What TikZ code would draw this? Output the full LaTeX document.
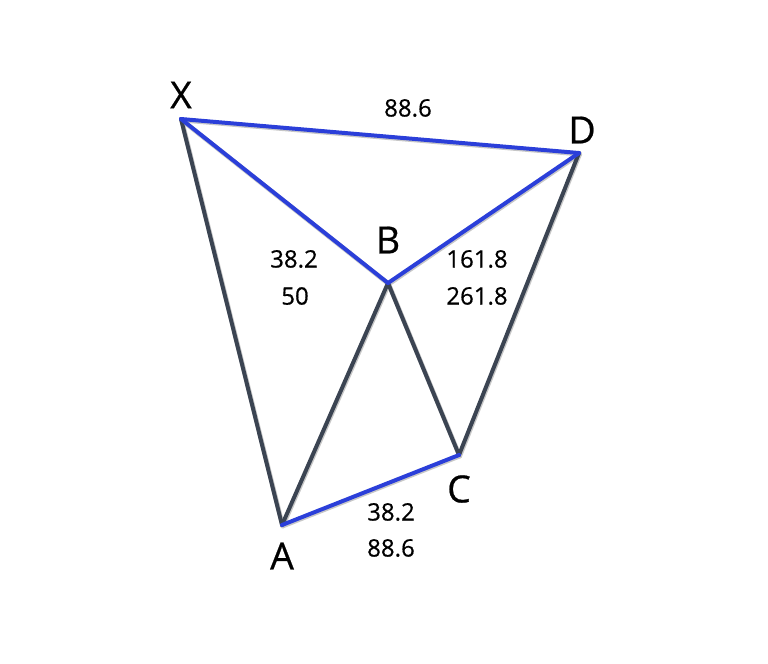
\documentclass[tikz,border=0pt]{standalone}
\usepackage{fontspec}
\setmainfont{Open Sans}[FakeBold=0.6]
\usepackage{tikz}
\usepackage{tkz-euclide}
\definecolor{legblue}{HTML}{2B3FD9}
\definecolor{leggray}{HTML}{3B4452}
\tikzset{
  bluelegs/.style={color=legblue,line width=3.4pt,line cap=round,line join=round},
  graylegs/.style={color=leggray,line width=3.4pt,line cap=round,line join=round},
  shadowlegs/.style={color=black!22,line width=4pt,line cap=round,line join=round,
    transform canvas={xshift=0.6pt,yshift=-0.9pt}},
  vertexname/.style={font=\fontsize{32}{36}\selectfont,inner sep=0pt},
  ratio/.style={font=\fontsize{20.5}{24}\selectfont,inner sep=0pt}
}
\begin{document}
\begin{tikzpicture}[x=0.03cm,y=-0.03cm]
                        \useasboundingbox (0,0) rectangle (768,663);

                        \tkzDefPoint(181,119){X}
                        \tkzDefPoint(282,525){A}
                        \tkzDefPoint(388,283){B}
                        \tkzDefPoint(459,455){C}
                        \tkzDefPoint(579,153){D}

                        % shadows
                        \tkzDrawSegments[shadowlegs](X,A A,B B,C C,D X,D X,B B,D A,C)

                        \tkzDrawSegment[graylegs](X,A)
                        \tkzDrawSegment[graylegs](A,B)
                        \tkzDrawSegment[graylegs](B,C)
                        \tkzDrawSegment[graylegs](C,D)

                        \tkzDrawSegment[bluelegs](X,D)
                        \tkzDrawSegment[bluelegs](X,B)
                        \tkzDrawSegment[bluelegs](B,D)
                        \tkzDrawSegment[bluelegs](A,C)

                        \node[vertexname] (labX) at (181,95) {X};
                        \node[vertexname] (labD) at (582,130) {D};
                        \node[vertexname] (labB) at (388,240) {B};
                        \node[vertexname] (labC) at (459,489) {C};
                        \node[vertexname] (labA) at (282,556) {A};

                        \node[ratio] (xd) at (408,108) {88.6};
                        \node[ratio] (xbA) at (294,259) {38.2};
                        \node[ratio] (xbB) at (295,296) {50};
                        \node[ratio] (bdA) at (477,259) {161.8};
                        \node[ratio] (bdB) at (477,296) {261.8};
                        \node[ratio] (acA) at (391,512) {38.2};
                        \node[ratio] (acB) at (391,548) {88.6};
                    \end{tikzpicture}
\end{document}
